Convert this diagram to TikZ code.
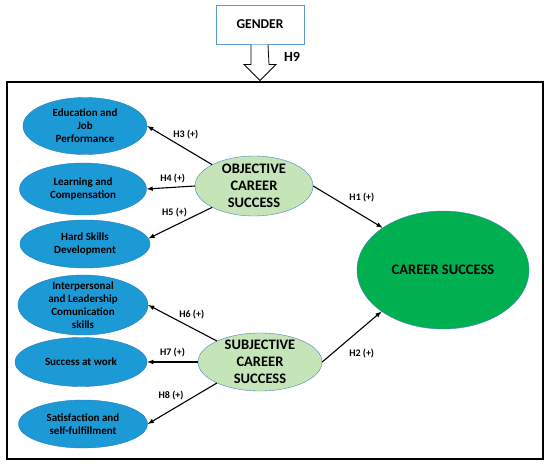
\documentclass[tikz,border=0pt]{standalone}
\usepackage{fontspec}
\setmainfont{Carlito}
\usetikzlibrary{calc,shapes.geometric}

\definecolor{dimblue}{RGB}{28,154,214}
\definecolor{dimedge}{RGB}{40,120,190}
\definecolor{midgreen}{RGB}{197,228,183}
\definecolor{edgeblue}{RGB}{70,130,190}
\definecolor{topgreen}{RGB}{0,176,80}
\definecolor{boxblue}{RGB}{91,155,213}

\begin{document}
\begin{tikzpicture}[
 x=1pt,y=1pt,
 >={latex},
 align=center,
 font=\bfseries,
 dim/.style={draw=dimedge,fill=dimblue,ellipse,inner xsep=0pt,inner ysep=-4pt,
  font=\bfseries\fontsize{11}{13}\selectfont},
 mid/.style={draw=edgeblue,fill=midgreen,ellipse,inner xsep=0pt,inner ysep=-6pt,
  font=\bfseries\fontsize{14.5}{17}\selectfont},
 top/.style={draw=edgeblue,fill=topgreen,ellipse,inner sep=0pt,
  font=\bfseries\fontsize{14.5}{17}\selectfont},
 hyp/.style={font=\bfseries\fontsize{10}{12}\selectfont,inner sep=1pt},
 link/.style={->,line width=1.1pt}
]
\useasboundingbox (0,0) rectangle (550,-464);
\draw [line width=1.5pt] (7,-82) rectangle (543,-459);
\node (gender) [draw=boxblue,line width=1pt,minimum width=88,minimum height=39,
 font=\bfseries\fontsize{13.5}{16}\selectfont] at (260,-24.5) {GENDER};
\draw [line width=0.8pt,fill=white]
 ($(gender.south)+(-9,0)$) -- ++(0,-20) -- ++(-7,0) -- ($(gender.south)+(0,-36)$)
 -- ($(gender.south)+(16,-20)$) -- ++(-7,0) -- ($(gender.south)+(8,0)$);
\node (h9) [font=\bfseries\fontsize{14}{16}\selectfont] at (292,-57) {H9};

% outcome
\node (career) [top,minimum width=172,minimum height=118] at (443,-270) {CAREER SUCCESS};
\node (objective) [mid,minimum width=118,minimum height=60] at (254,-186) {OBJECTIVE\\CAREER\\SUCCESS};
\node (subjective) [mid,minimum width=124,minimum height=58] at (260,-362) {SUBJECTIVE\\CAREER\\SUCCESS};

% dimensions
\node (education) [dim,minimum width=124,minimum height=57] at (85,-126) {Education and\\Job\\Performance};
\node (learning) [dim,minimum width=127,minimum height=52] at (83,-189) {Learning and\\Compensation};
\node (hardskills) [dim,minimum width=130,minimum height=48] at (85,-244) {Hard Skills\\Development};
\node (interpersonal) [dim,minimum width=130,minimum height=60] at (83,-305) {Interpersonal\\and Leadership\\Comunication\\skills};
\node (work) [dim,minimum width=132,minimum height=49] at (81,-362) {Success at work};
\node (satisfaction) [dim,minimum width=129,minimum height=48] at (83,-424) {Satisfaction and\\self-fulfillment};

\draw [link] (objective.east) -- node [hyp,pos=0.5,anchor=south west,yshift=3pt] {H1 (+)} (career.145);
\draw [link] (subjective.east) -- node [hyp,pos=0.43,anchor=north west,yshift=-7pt] {H2 (+)} (career.214);
\draw [link] (objective.153) -- node [hyp,pos=0.62,anchor=south west] {H3 (+)} (education.east);
\draw [link] (objective.west) -- node [hyp,pos=0.46,above=3pt] {H4 (+)} (learning.east);
\draw [link] (objective.207) -- node [hyp,pos=0.37,anchor=south east] {H5 (+)} (hardskills.5);
\draw [link] (subjective.154) -- node [hyp,pos=0.57,anchor=south west] {H6 (+)} (interpersonal.east);
\draw [link] (subjective.west) -- node [hyp,pos=0.5,above=3pt] {H7 (+)} (work.east);
\draw [link] (subjective.206) -- node [hyp,pos=0.46,anchor=south east] {H8 (+)} (satisfaction.east);
\end{tikzpicture}
\end{document}
